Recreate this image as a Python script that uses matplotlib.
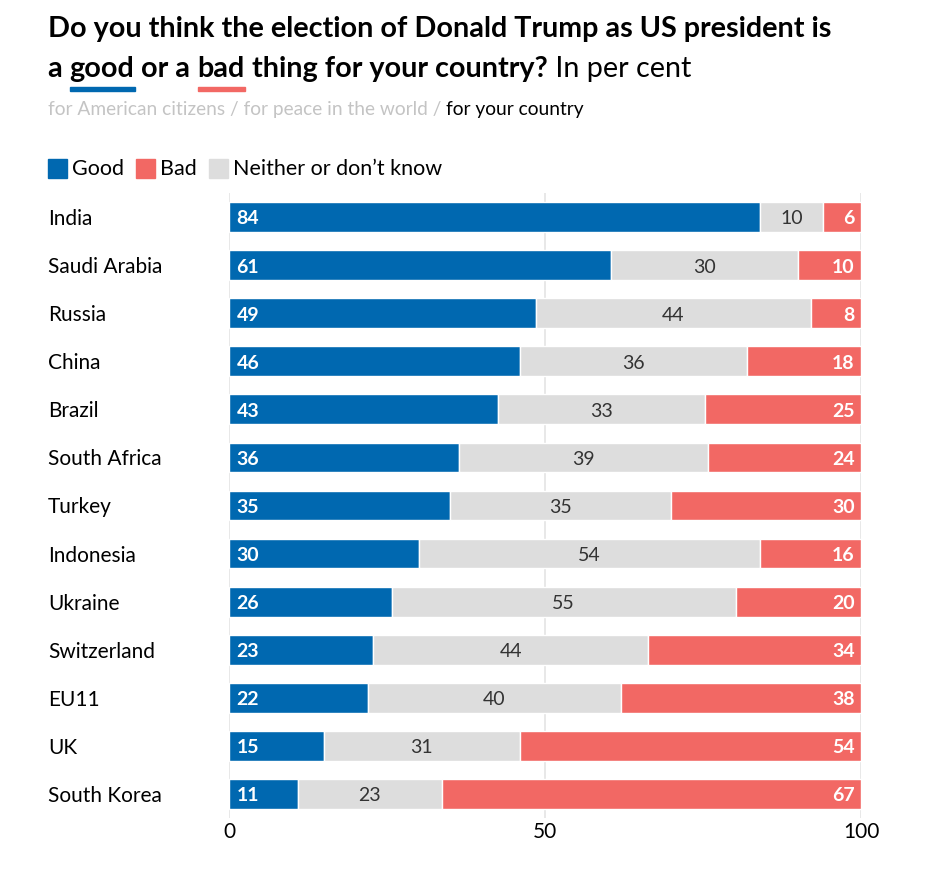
import matplotlib.pyplot as plt
from matplotlib.patches import Rectangle

plt.rcParams['font.family'] = ['Lato', 'DejaVu Sans']

# Data
countries = ["India", "Saudi Arabia", "Russia", "China", "Brazil", "South Africa",
             "Turkey", "Indonesia", "Ukraine", "Switzerland", "EU11", "UK", "South Korea"]
good = [84, 61, 49, 46, 43, 36, 35, 30, 26, 23, 22, 15, 11]
neither = [10, 30, 44, 36, 33, 39, 35, 54, 55, 44, 40, 31, 23]
bad = [6, 10, 8, 18, 25, 24, 30, 16, 20, 34, 38, 54, 67]
ticks = [0, 50, 100]

BLUE = "#0068b0"
RED = "#f26864"
GREY = "#dddddd"

W, H = 931, 880
fig = plt.figure(figsize=(W / 100, H / 100), dpi=100)

# axes in pixel coords
x0, x1 = 229, 861
ytop, ybot = 193, 818
ax = fig.add_axes([x0 / W, 1 - ybot / H, (x1 - x0) / W, (ybot - ytop) / H])

n = len(countries)
ys = list(range(n))
dy = 0.04  # nudge text down slightly
for i in ys:
    tot = good[i] + neither[i] + bad[i]
    g = good[i] * 100 / tot
    m = neither[i] * 100 / tot
    b = bad[i] * 100 / tot
    ax.barh(i, g, height=0.62, color=BLUE, edgecolor="white", linewidth=1, zorder=2)
    ax.barh(i, m, left=g, height=0.62, color=GREY, edgecolor="white", linewidth=1, zorder=2)
    ax.barh(i, b, left=g + m, height=0.62, color=RED, edgecolor="white", linewidth=1, zorder=2)
    ax.text(1.2, i + dy, str(good[i]), color="white", fontsize=14, fontweight="bold",
            va="center", ha="left", zorder=3)
    ax.text(g + m / 2, i + dy, str(neither[i]), color="#333333", fontsize=14,
            va="center", ha="center", zorder=3)
    ax.text(99, i + dy, str(bad[i]), color="white", fontsize=14, fontweight="bold",
            va="center", ha="right", zorder=3)

ax.set_xlim(0, 100)
ax.set_ylim(n - 0.5, -0.5)
for t in ticks:
    ax.axvline(t, color="#e4e4e4", linewidth=1.2, zorder=1)
ax.set_xticks(ticks)
ax.set_xticklabels([str(t) for t in ticks], fontsize=15)
ax.tick_params(axis="x", length=0, pad=3)
ax.set_yticks(ys)
ax.set_yticklabels([])
ax.tick_params(axis="y", length=0)
for i, c in enumerate(countries):
    ax.text(-(x0 - 48) / (x1 - x0) * 100, i + dy, c, fontsize=15, va="center", ha="left",
            transform=ax.transData, clip_on=False)
for s in ax.spines.values():
    s.set_visible(False)

# Title
fs = 20.7
fig.text(48 / W, 1 - 29 / H, "Do you think the election of Donald Trump as US president is",
         fontsize=fs, fontweight="bold", va="center", ha="left")

fig.canvas.draw()
r = fig.canvas.get_renderer()
parts = [("a ", "bold"), ("good", "bold"), (" or a ", "bold"),
         ("bad", "bold"), (" thing for your country?", "bold"),
         (" In per cent", "normal")]
x = 48
spans = []
for txt, wt in parts:
    t = fig.text(x / W, 1 - 69 / H, txt, fontsize=fs, fontweight=wt, color="black",
                 va="center", ha="left")
    bb = t.get_window_extent(r)
    spans.append((bb.x0, bb.x1))
    x = bb.x1
for idx, col in [(1, BLUE), (3, RED)]:
    a, b = spans[idx]
    fig.add_artist(Rectangle((a / W, 1 - 91 / H), (b - a) / W, 4 / H, color=col,
                             transform=fig.transFigure))

# Subtitle
t = fig.text(48 / W, 1 - 110 / H, "for American citizens / for peace in the world / ",
             fontsize=13.8, color="#c4c4c4", va="center", ha="left")
bb = t.get_window_extent(r)
fig.text(bb.x1 / W, 1 - 110 / H, "for your country", fontsize=13.8, color="black",
         va="center", ha="left")

# Legend
x = 48
for lab, col in [("Good", BLUE), ("Bad", RED), ("Neither or don’t know", GREY)]:
    fig.add_artist(Rectangle((x / W, 1 - 178 / H), 19 / W, 19 / H, color=col,
                             transform=fig.transFigure))
    t = fig.text((x + 24) / W, 1 - 169 / H, lab, fontsize=15.5, va="center", ha="left")
    bb = t.get_window_extent(r)
    x = bb.x1 + 12

fig.savefig("out.png", dpi=100)
